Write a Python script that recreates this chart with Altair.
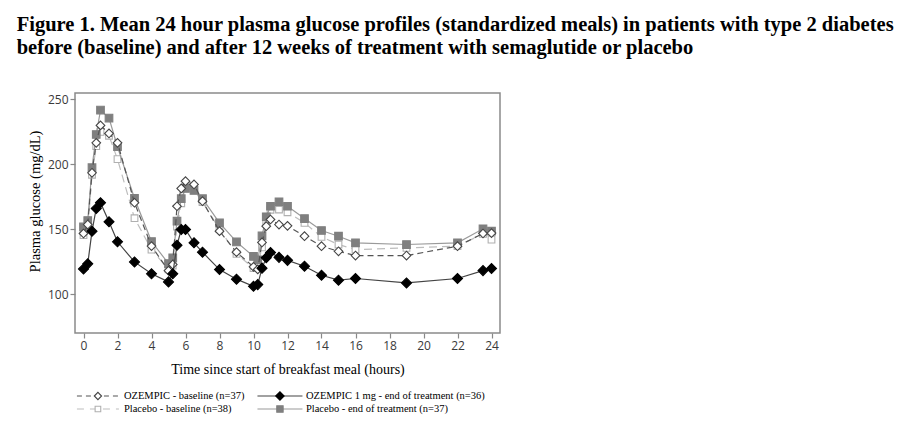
import altair as alt
import pandas as pd

TITLE = [
    "Figure 1. Mean 24 hour plasma glucose profiles (standardized meals) in patients with type 2 diabetes",
    "before (baseline) and after 12 weeks of treatment with semaglutide or placebo",
]
X_TITLE = "Time since start of breakfast meal (hours)"
Y_TITLE = "Plasma glucose (mg/dL)"
X_TICKS = [0, 2, 4, 6, 8, 10, 12, 14, 16, 18, 20, 22, 24]
Y_TICKS = [100, 150, 200, 250]

TIME = [0, 0.25, 0.5, 0.75, 1, 1.5, 2, 3, 4, 5,
        5.25, 5.5, 5.75, 6, 6.5, 7, 8, 9, 10,
        10.25, 10.5, 10.75, 11, 11.5, 12, 13, 14, 15, 16, 19, 22, 23.5, 24]

OZ_BASE = [146.7, 153.6, 193.5, 216.6, 230, 223.8, 216.6, 170.4, 137, 118,
           122.8, 167.7, 181.4, 187, 184.5, 171.6, 148.5, 132.3, 121,
           119, 139.8, 152.3, 157.5, 153.6, 152.6, 144.6, 136.9, 133, 129.7, 129.7, 136.9, 146.7, 147]
PL_BASE = [145.4, 150, 192, 214, 225, 222, 204, 158.5, 134.3, 119,
           122, 152, 170, 183, 180, 171, 150, 131, 120,
           122, 136, 155, 165, 165.2, 163.1, 154.9, 144.1, 138.2, 134.3, 135.6, 136.9, 146.4, 142]
OZ_END = [119.4, 123.3, 148.5, 166, 170.4, 155.7, 140.3, 124.8, 115.6, 109.4,
          115.6, 137.7, 149.8, 149.8, 139.5, 132.3, 118.9, 111.5, 106,
          107.3, 120, 128, 132, 128.3, 126, 121.5, 114.5, 110.7, 112, 108.6, 112, 118.1, 119.7]
PL_END = [151.8, 156.7, 197.4, 223, 241.8, 235.7, 213.6, 173.7, 140.5, 123.5,
          127.9, 156.2, 173.5, 181.4, 179.9, 173.5, 154.9, 140.2, 129,
          126.4, 144.8, 159.6, 167.7, 171.1, 167.7, 158.2, 149, 144.6, 139.5, 138.2, 139.5, 150.3, 148.5]

LEG_LABELS = ["OZEMPIC - baseline (n=37)", "Placebo - baseline (n=38)",
              "OZEMPIC 1 mg - end of treatment (n=36)", "Placebo - end of treatment (n=37)"]
LEG_COL = [0, 0, 1, 1]
LEG_ROW = [0, 1, 0, 1]

STYLES = {
    "OZEMPIC - baseline (n=37)": dict(line="#555555", dash=[6, 4], shape="diamond", fill="white", stroke="#444444", size=75),
    "Placebo - baseline (n=38)": dict(line="#bdbdbd", dash=[8, 5], shape="square", fill="white", stroke="#b0b0b0", size=45),
    "OZEMPIC 1 mg - end of treatment (n=36)": dict(line="#444444", dash=None, shape="diamond", fill="#000000", stroke="#000000", size=100),
    "Placebo - end of treatment (n=37)": dict(line="#9a9a9a", dash=None, shape="square", fill="#7f7f7f", stroke="#7f7f7f", size=58),
}
SERIES = [
    ("Placebo - baseline (n=38)", PL_BASE),
    ("Placebo - end of treatment (n=37)", PL_END),
    ("OZEMPIC - baseline (n=37)", OZ_BASE),
    ("OZEMPIC 1 mg - end of treatment (n=36)", OZ_END),
]

x_enc = alt.X("t:Q", scale=alt.Scale(domain=[-0.5, 24.5], nice=False, zero=False),
              axis=alt.Axis(values=X_TICKS, title=X_TITLE, titlePadding=11))
y_enc = alt.Y("v:Q", scale=alt.Scale(domain=[70, 255], nice=False, zero=False),
              axis=alt.Axis(values=Y_TICKS, title=Y_TITLE, titlePadding=5, titleY=108))

layers = []
for name, vals in SERIES:
    st = STYLES[name]
    df = pd.DataFrame({"t": TIME, "v": vals})
    line_kw = dict(color=st["line"], strokeWidth=1.2)
    if st["dash"]:
        line_kw["strokeDash"] = st["dash"]
    layers.append(alt.Chart(df).mark_line(**line_kw).encode(x=x_enc, y=y_enc))
    layers.append(alt.Chart(df).mark_point(shape=st["shape"], filled=True, fill=st["fill"],
                                           stroke=st["stroke"], strokeWidth=1.1, size=st["size"],
                                           opacity=1).encode(x=x_enc, y=y_enc))

main = alt.layer(*layers).properties(
    width=425, height=240,
    view=alt.ViewBackground(stroke="#8a8a8a", strokeWidth=1.5),
)

# legend
lx = alt.X("col:Q", scale=alt.Scale(domain=[-0.126, 2.209], nice=False, zero=False), axis=None)
ly = alt.Y("row:Q", scale=alt.Scale(domain=[0, 1], reverse=True, nice=False, zero=False), axis=None)
leg_layers = []
for lab, c, r in zip(LEG_LABELS, LEG_COL, LEG_ROW):
    st = STYLES[lab]
    ldf = pd.DataFrame({"col": [c], "row": [r], "label": [lab]})
    half = 21 if c == 0 else 22.5
    seg_kw = dict(shape="M-1,0L1,0", filled=False, color=st["line"], strokeWidth=1.2,
                  size=(2 * half) ** 2, opacity=1)
    if st["dash"]:
        seg_kw["strokeDash"] = [5, 4] if c == 0 and r == 0 else [7, 6]
    leg_layers.append(alt.Chart(ldf).mark_point(**seg_kw).encode(x=lx, y=ly))
    leg_layers.append(alt.Chart(ldf).mark_point(shape=st["shape"], filled=True, fill=st["fill"],
                                                stroke=st["stroke"], strokeWidth=1.1,
                                                size=st["size"] * 0.7, opacity=1).encode(x=lx, y=ly))
    leg_layers.append(alt.Chart(ldf).mark_text(align="left", baseline="middle", dx=26,
                                               font="Liberation Serif", fontSize=10.5,
                                               color="#000").encode(x=lx, y=ly, text="label:N"))

legend = alt.layer(*leg_layers).properties(
    width=425, height=13,
    view=alt.ViewBackground(stroke="transparent"),
)

chart = alt.vconcat(main, legend, spacing=12).properties(
    title=alt.TitleParams(TITLE, anchor="start", frame="bounds", dx=-10,
                          font="Liberation Serif", fontSize=20.5, fontWeight="bold",
                          color="#000", lineHeight=23, offset=34),
    padding={"left": 8, "top": 6, "right": 0, "bottom": 4},
).configure_axis(
    domain=False, grid=False, tickColor="#888", tickSize=5, tickWidth=1.2,
    labelFont="Open Sans", labelFontSize=12, labelColor="#3a3a3a", labelPadding=2,
    titleFont="Liberation Serif", titleFontWeight="normal", titleColor="#000",
).configure_axisX(titleFontSize=14).configure_axisY(titleFontSize=14.5
).configure_view(stroke="transparent")

chart.save("out.html", embed_options={"renderer": "svg", "actions": False})
